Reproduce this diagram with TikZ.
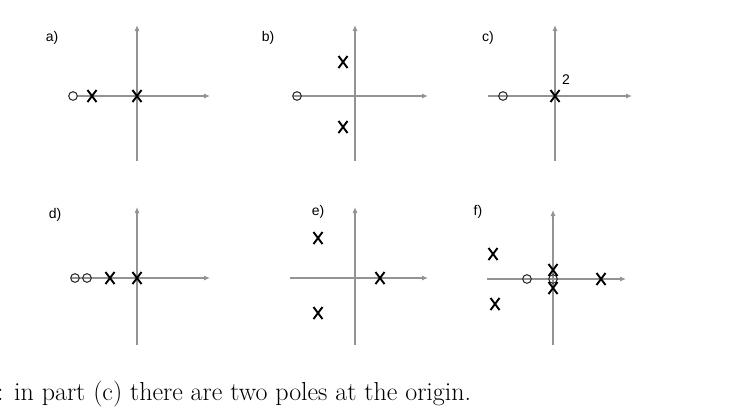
\documentclass[tikz,border=0pt]{standalone}
\usepackage{fontspec}
\usetikzlibrary{arrows.meta}
\newfontfamily\lab{Liberation Sans}
\begin{document}
\begin{tikzpicture}[x=1pt,y=-1pt,
 ax/.style={draw=gray!85,line width=1.1pt,-{Latex[length=6pt,width=5pt]}},
 lb/.style={font=\lab\fontsize{14}{16}\selectfont},
]
\useasboundingbox (0,0) rectangle (745,418);
\def\X#1#2{\draw[line width=1.9pt] (#1-4.5,#2-6) -- (#1+4.5,#2+6) (#1-4.5,#2+6) -- (#1+4.5,#2-6);}
\def\O#1#2{\draw[line width=1.1pt,gray!40!black] (#1,#2) circle (4.3);}
% a
\node[lb] (la) at (52,38) {a)};
\draw[ax] (137,161) -- (137,25);
\draw[ax] (77,96) -- (210,96);
\O{73}{96}\X{92}{96}\X{137}{96}
% b
\node[lb] (lbb) at (268,38) {b)};
\draw[ax] (355,161) -- (355,25);
\draw[ax] (293,96) -- (428,96);
\O{297}{96}\X{343}{62}\X{343}{127}
% c
\node[lb] (lc) at (488,38) {c)};
\draw[ax] (555,161) -- (555,25);
\draw[ax] (488,96) -- (632,96);
\O{503}{96}\X{555}{96}
\node[lb] (two) at (566,80) {2};
% d
\node[lb] (ld) at (55,215) {d)};
\draw[ax] (137,345) -- (137,207);
\draw[ax] (71,278) -- (210,278);
\O{75}{278}\O{87}{278}\X{110}{278}\X{137}{278}
% e
\node[lb] (le) at (318,212) {e)};
\draw[ax] (355,345) -- (355,207);
\draw[ax] (290,278) -- (428,278);
\X{318}{238}\X{318}{313}\X{380}{278}
% f
\node[lb] (lf) at (478,212) {f)};
\draw[ax] (553,345) -- (553,210);
\draw[ax] (487,279) -- (626,279);
\X{493}{254}\X{495}{304}\X{601}{279}
\O{527}{279}\O{553}{279}\X{553}{270}\X{553}{288}
% caption
\node[anchor=west,inner sep=0pt,font=\fontsize{26}{30}\selectfont] (cap) at (-3,394) {: in part (c) there are two poles at the origin.};
\end{tikzpicture}
\end{document}
